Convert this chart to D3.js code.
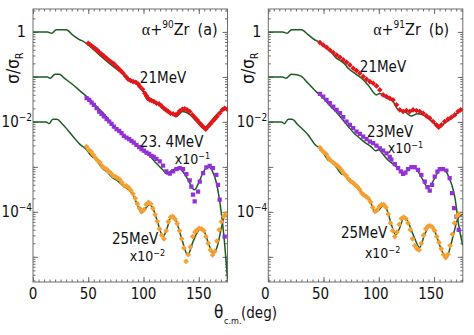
<!DOCTYPE html>
<html lang="en">
<head>
<meta charset="utf-8">
<title>alpha + Zr elastic scattering</title>
<script src="https://cdn.jsdelivr.net/npm/d3@7"></script>
<style>
  body { margin: 0; background: #fff; }
  svg { display: block; background: #fff; }
  text { font-family: "Liberation Sans Narrow", "DejaVu Sans Condensed", "Liberation Sans", sans-serif; fill: #111; }
</style>
</head>
<body>
<div id="chart"></div>
<script>
// x-axis tick labels (theta c.m., deg)
var angleTicks = [0, 50, 100, 150];
// scale factors applied to the three energies in each panel
var scaleFactors = [1, 0.1, 0.01];

// ---- panel (a) alpha + 90Zr : calculated curves [theta, sigma/sigmaR] (unscaled)
var curveA21 = [[0,1],[13,1],[17,0.933],[21,1.122],[30,1.122],[36,0.851],[42,0.676],[45.5,0.617],[50,0.513],[60.5,0.302],[70,0.191],[78.6,0.132],[88,0.0851],[92,0.0759],[96,0.0631],[100,0.0468],[104,0.0302],[107,0.0316],[115,0.0240],[122,0.0186],[129.5,0.0132],[135.5,0.0170],[142,0.0145],[148,0.0102],[155,0.00708],[160,0.00955],[165,0.0135],[172,0.0186],[176,0.0204]];
var curveA23 = [[0,1],[13,1],[15.5,0.933],[20,1.148],[24,1.148],[27.5,0.977],[36.4,0.661],[42.5,0.490],[50,0.339],[60,0.191],[67,0.126],[73,0.0794],[79,0.0589],[88,0.0398],[94,0.0302],[100,0.0219],[105,0.0182],[110,0.0132],[114,0.0105],[118,0.00832],[121,0.00692],[126,0.00851],[132,0.00933],[137,0.00708],[141,0.00479],[146,0.00309],[150,0.00447],[154,0.00759],[158.4,0.0102],[162,0.00832],[166,0.00437],[170,0.00112],[173,0.000251],[176,0.0000316]];
var curveA25 = [[0,1],[12,1],[14.5,0.912],[18,1.148],[21.5,1.148],[27.4,0.851],[36.4,0.468],[42.5,0.316],[48.5,0.240],[51.5,0.191],[57.5,0.138],[63.5,0.0891],[66.6,0.0794],[72.5,0.0562],[76,0.0501],[81.6,0.0380],[86,0.0316],[90.6,0.0240],[94,0.0151],[98.2,0.00933],[101,0.0112],[105.7,0.0145],[109,0.0112],[113,0.00562],[117.7,0.00282],[121.5,0.00447],[125.3,0.00794],[129,0.00661],[134,0.00282],[140,0.00110],[145,0.00224],[151,0.00398],[155,0.00355],[159,0.00191],[163,0.00120],[167,0.00178],[170.5,0.00447],[173.4,0.00851],[176,0.0100]];

// ---- panel (a) measured points (unscaled)
var pointsA21 = [[50.0,0.560],[52.1,0.514],[53.9,0.472],[56.0,0.434],[58.1,0.398],[59.9,0.353],[62.0,0.324],[64.1,0.293],[66.6,0.260],[69.0,0.231],[71.1,0.212],[73.2,0.195],[75.6,0.170],[77.1,0.156],[79.2,0.138],[81.6,0.121],[84.0,0.102],[86.1,0.0887],[88.2,0.0830],[90.6,0.0787],[93.0,0.0762],[95.2,0.0698],[96.7,0.0610],[99.1,0.0532],[101.2,0.0434],[102.7,0.0378],[104.2,0.0336],[105.7,0.0308],[107.2,0.0298],[109.3,0.0283],[111.7,0.0260],[114.1,0.0251],[116.2,0.0227],[118.3,0.0201],[120.2,0.0185],[122.3,0.0170],[124.4,0.0156],[126.8,0.0151],[129.2,0.0143],[131.3,0.0156],[132.8,0.0175],[135.2,0.0191],[137.3,0.0195],[139.4,0.0185],[141.8,0.0170],[144.2,0.0143],[146.3,0.0127],[148.4,0.0111],[150.3,0.00966],[152.4,0.00857],[154.5,0.00760],[156.3,0.00687],[158.4,0.00787],[160.5,0.00902],[162.3,0.0102],[164.4,0.0115],[166.5,0.0132],[168.9,0.0156],[171.3,0.0185],[173.4,0.0201],[175.6,0.0191]];
var pointsA23 = [[48.5,0.336],[50.9,0.308],[53.0,0.269],[55.1,0.239],[57.5,0.201],[59.9,0.170],[62.0,0.151],[64.1,0.132],[66.6,0.115],[69.0,0.102],[71.1,0.0902],[73.2,0.0787],[75.6,0.0687],[78.0,0.0631],[80.1,0.0560],[82.2,0.0489],[84.6,0.0449],[87.0,0.0412],[89.1,0.0378],[91.2,0.0348],[93.6,0.0308],[96.1,0.0274],[98.2,0.0247],[100.3,0.0231],[102.7,0.0208],[105.1,0.0195],[107.2,0.0175],[109.3,0.0166],[111.7,0.0151],[114.7,0.0132],[117.7,0.0107],[120.7,0.00794],[123.8,0.00708],[126.8,0.00794],[129.8,0.00891],[132.8,0.00933],[135.8,0.00891],[138.8,0.00692],[141.8,0.00501],[143.3,0.00363],[144.8,0.00240],[146.3,0.00170],[149.4,0.00282],[150.9,0.00468],[153.9,0.00724],[156.9,0.00977],[159.9,0.0105],[162.9,0.00933],[165.9,0.00661],[167.4,0.00398],[168.9,0.00186],[173.4,0.000282]];
var pointsA25 = [[48.5,0.282],[50.5,0.240],[52.5,0.219],[54.5,0.186],[56.5,0.158],[58.5,0.138],[60.5,0.126],[62.5,0.105],[64.5,0.0933],[66.5,0.0891],[68.5,0.0794],[70.5,0.0724],[72.5,0.0631],[74.5,0.0603],[76.5,0.0562],[78.5,0.0525],[80.5,0.0447],[82.5,0.0380],[84.5,0.0380],[86.5,0.0347],[88.5,0.0302],[90.5,0.0251],[92.5,0.0200],[94.5,0.0151],[96.5,0.0120],[98.5,0.0102],[100.5,0.0112],[102.5,0.0145],[104.5,0.0162],[106.5,0.0151],[108.5,0.0120],[110.5,0.00871],[112.5,0.00617],[114.5,0.00417],[116.5,0.00302],[118.5,0.00251],[120.5,0.00380],[122.5,0.00603],[124.5,0.00759],[126.5,0.00794],[128.5,0.00692],[130.5,0.00550],[132.5,0.00380],[134.5,0.00251],[136.5,0.00158],[138.5,0.000794],[140.5,0.00112],[142.5,0.00166],[144.5,0.00282],[146.5,0.00355],[148.5,0.00398],[150.5,0.00427],[152.5,0.00417],[154.5,0.00380],[156.5,0.00282],[158.5,0.00200],[160.5,0.00141],[162.5,0.00110],[164.5,0.00132],[166.5,0.00224],[168.5,0.00398],[170.5,0.00603],[172.5,0.00794],[174.5,0.00891]];

// ---- panel (b) alpha + 91Zr : calculated curves (unscaled)
var curveB21 = [[0,1],[13,1],[17,0.933],[21,1.122],[30,1.122],[36,0.871],[42.2,0.661],[45.2,0.617],[50,0.501],[57.3,0.347],[60.3,0.282],[69.3,0.191],[72.3,0.155],[78.3,0.120],[84.4,0.0933],[90.3,0.0661],[97.9,0.0398],[100.9,0.0427],[107,0.0339],[113,0.0282],[117.4,0.0186],[123.5,0.0170],[129.5,0.0135],[135,0.0151],[141.5,0.0138],[148,0.0105],[155,0.00794],[160,0.00955],[165.6,0.0120],[174.7,0.0186],[176,0.0195]];
var curveB23 = [[0,1],[13,1],[16,0.933],[21,1.148],[26,1.122],[30,1.023],[36,0.724],[42.2,0.501],[50,0.331],[57.3,0.209],[61,0.170],[66.3,0.120],[72.3,0.0794],[78.3,0.0537],[81.3,0.0468],[87,0.0355],[93.4,0.0275],[97,0.0229],[100,0.0240],[103,0.0200],[108,0.0145],[114.5,0.0107],[120.5,0.00759],[122,0.00692],[126,0.00871],[130,0.00977],[134,0.00891],[139,0.00562],[144.5,0.00347],[150,0.00525],[154,0.00794],[158,0.00933],[162,0.00708],[166,0.00398],[169,0.00200],[172,0.000562],[176,0.000178]];
var curveB25 = [[0,1],[12,1],[14.5,0.912],[18,1.148],[21.5,1.148],[27,0.851],[36.1,0.513],[42.2,0.316],[48.2,0.240],[54.2,0.141],[57.3,0.132],[62,0.0955],[66.3,0.0692],[69.3,0.0661],[75.3,0.0437],[80,0.0355],[84.4,0.0275],[91.9,0.0186],[96.5,0.00977],[99,0.0105],[104.5,0.0138],[108,0.0100],[111,0.00562],[115.2,0.00309],[119,0.00447],[122.7,0.00759],[126,0.00631],[131,0.00316],[137,0.00162],[141.5,0.00316],[146.8,0.00490],[151,0.00355],[156,0.00158],[161.2,0.000933],[165,0.00178],[168.6,0.00398],[171.5,0.00708],[176,0.00891]];

// ---- panel (b) measured points (unscaled)
var pointsB21 = [[46.7,0.579],[49.7,0.514],[52.7,0.456],[55.7,0.398],[58.7,0.348],[61.8,0.308],[64.8,0.274],[67.8,0.239],[70.8,0.212],[73.8,0.185],[76.8,0.156],[79.8,0.138],[82.8,0.121],[85.9,0.102],[88.9,0.0887],[91.9,0.0787],[94.9,0.0723],[97.9,0.0631],[100.9,0.0514],[103.9,0.0398],[106.9,0.0366],[109.9,0.0336],[112.9,0.0308],[116.0,0.0239],[119.0,0.0185],[122.0,0.0170],[125.0,0.0179],[128.0,0.0170],[131.0,0.0185],[134.0,0.0179],[137.0,0.0170],[140.1,0.0156],[143.1,0.0136],[146.1,0.0121],[149.1,0.0102],[152.1,0.00857],[154.2,0.00760],[156.6,0.00857],[159.6,0.0102],[162.6,0.0115],[165.7,0.0127],[168.7,0.0143],[171.7,0.0170],[174.1,0.0185]];
var pointsB23 = [[46.7,0.419],[49.7,0.366],[52.7,0.308],[55.7,0.260],[58.8,0.219],[61.8,0.185],[64.8,0.156],[67.8,0.127],[70.8,0.102],[73.8,0.0857],[76.8,0.0723],[79.8,0.0610],[82.8,0.0541],[85.9,0.0472],[88.9,0.0412],[91.9,0.0366],[94.9,0.0336],[97.9,0.0295],[100.9,0.0257],[103.9,0.0229],[106.9,0.0200],[109.9,0.0166],[111.4,0.0145],[114.5,0.0115],[117.5,0.00933],[119.9,0.00794],[122.0,0.00700],[124.1,0.00748],[126.5,0.00887],[129.5,0.00984],[132.5,0.00984],[135.5,0.00859],[138.5,0.00664],[141.6,0.00472],[144.0,0.00353],[146.1,0.00298],[148.2,0.00398],[150.6,0.00610],[153.0,0.00787],[155.1,0.00887],[158.1,0.00887],[161.1,0.00830],[164.1,0.00560],[166.2,0.00260],[168.1,0.00121],[170.2,0.000787],[172.3,0.000398]];
var pointsB25 = [[46.7,0.269],[48.5,0.234],[50.5,0.209],[52.5,0.191],[54.5,0.158],[56.5,0.138],[58.5,0.126],[60.5,0.115],[62.5,0.107],[64.5,0.0955],[66.5,0.0832],[68.5,0.0708],[70.5,0.0631],[72.5,0.0537],[74.5,0.0479],[76.5,0.0447],[78.5,0.0398],[80.5,0.0363],[82.5,0.0316],[84.5,0.0263],[86.5,0.0234],[88.5,0.0219],[90.5,0.0200],[92.5,0.0166],[94.5,0.0126],[96.5,0.0102],[98.5,0.0110],[100.5,0.0132],[102.5,0.0145],[104.5,0.0145],[106.5,0.0126],[108.5,0.00891],[110.5,0.00562],[112.5,0.00380],[114.5,0.00282],[116.5,0.00355],[118.5,0.00525],[120.5,0.00708],[122.5,0.00759],[124.5,0.00708],[126.5,0.00562],[128.5,0.00398],[130.5,0.00251],[132.5,0.00178],[134.5,0.00151],[136.5,0.00141],[138.5,0.00200],[140.5,0.00302],[142.5,0.00417],[144.5,0.00479],[146.5,0.00490],[148.5,0.00457],[150.5,0.00380],[152.5,0.00282],[154.5,0.00209],[156.5,0.00151],[158.5,0.00112],[160.5,0.000955],[162.5,0.00112],[164.5,0.00178],[166.5,0.00316],[168.5,0.00562],[170.5,0.00794],[172.5,0.00891]];

// energy labels and their anchor in data coordinates [theta, plotted sigma/sigmaR]
var labelsA = [["21MeV", 96.7, 0.0736], ["23. 4MeV", 96.7, 0.00278], ["25MeV", 71.4, 1.95e-5]];
var labelsB = [["21MeV", 82.8, 0.129], ["23MeV", 89.2, 0.00464], ["25MeV", 65.7, 2.64e-5]];
var factorLabelsA = [["\u22121", 128.3, 0.00123], ["\u22122", 87.6, 8.58e-6]];
var factorLabelsB = [["\u22121", 108.1, 0.00215], ["\u22122", 87.4, 1.0e-5]];

var width = 474, height = 335;
var plotTop = 9, plotBottom = 282, plotW = 194.5;
var colors = ["#e2161b", "#9430d8", "#f5a033"];
var lineColor = "#1d5c22";
var frameColor = "#6d6d6d";

var panels = [
  {id: "a", left: 33, mass: "90", tag: "(a)", curves: [curveA21, curveA23, curveA25],
   points: [pointsA21, pointsA23, pointsA25], labels: labelsA, factors: factorLabelsA, shift: 0, ytitle: 19},
  {id: "b", left: 268.3, mass: "91", tag: "(b)", curves: [curveB21, curveB23, curveB25],
   points: [pointsB21, pointsB23, pointsB25], labels: labelsB, factors: factorLabelsB, shift: -3, ytitle: 254}
];

var svg = d3.select("#chart").append("svg")
    .attr("width", width)
    .attr("height", height);

var yMinor = [];
d3.range(-6, 1).forEach(function(e) {
  d3.range(1, 10).forEach(function(k) { yMinor.push(k * Math.pow(10, e)); });
});

panels.forEach(function(p) {
  var x = d3.scaleLinear().domain([0, 176]).range([p.left, p.left + plotW]);
  var y = d3.scaleLog().domain([Math.pow(10, -5.56), Math.pow(10, 0.51)]).range([plotBottom, plotTop]);
  var minors = yMinor.filter(function(v) { return v >= y.domain()[0] && v <= y.domain()[1]; });
  var decades = minors.filter(function(v) { return Math.abs(Math.log10(v) - Math.round(Math.log10(v))) < 1e-9; });

  var g = svg.append("g");

  g.append("clipPath").attr("id", "clip-" + p.id)
    .append("rect")
    .attr("x", p.left).attr("y", plotTop)
    .attr("width", plotW).attr("height", plotBottom - plotTop);

  function noDomain(sel) { sel.select(".domain").remove(); sel.selectAll("line").attr("stroke", frameColor); }

  // ticks, all pointing inward
  g.append("g").attr("transform", "translate(0," + plotBottom + ")")
    .call(d3.axisBottom(x).tickValues(d3.range(0, 177, 5)).tickSize(-2.5).tickFormat("")).call(noDomain);
  g.append("g").attr("transform", "translate(0," + plotBottom + ")")
    .call(d3.axisBottom(x).tickValues(angleTicks).tickSize(-5).tickFormat("")).call(noDomain);
  g.append("g").attr("transform", "translate(0," + plotTop + ")")
    .call(d3.axisTop(x).tickValues(d3.range(0, 177, 5)).tickSize(-2.5).tickFormat("")).call(noDomain);
  g.append("g").attr("transform", "translate(0," + plotTop + ")")
    .call(d3.axisTop(x).tickValues(angleTicks).tickSize(-5).tickFormat("")).call(noDomain);
  g.append("g").attr("transform", "translate(" + p.left + ",0)")
    .call(d3.axisLeft(y).tickValues(minors).tickSize(-2.5).tickFormat("")).call(noDomain);
  g.append("g").attr("transform", "translate(" + p.left + ",0)")
    .call(d3.axisLeft(y).tickValues(decades).tickSize(-5).tickFormat("")).call(noDomain);
  g.append("g").attr("transform", "translate(" + (p.left + plotW) + ",0)")
    .call(d3.axisRight(y).tickValues(minors).tickSize(-2.5).tickFormat("")).call(noDomain);
  g.append("g").attr("transform", "translate(" + (p.left + plotW) + ",0)")
    .call(d3.axisRight(y).tickValues(decades).tickSize(-5).tickFormat("")).call(noDomain);

  g.append("rect")
    .attr("x", p.left).attr("y", plotTop)
    .attr("width", plotW).attr("height", plotBottom - plotTop)
    .attr("fill", "none").attr("stroke", frameColor).attr("stroke-width", 1);

  // x tick labels
  g.selectAll(".xl").data(angleTicks).enter().append("text")
    .attr("x", function(d) { return x(d) + p.shift; })
    .attr("y", 299)
    .attr("text-anchor", "middle")
    .style("font-size", "15px")
    .text(function(d) { return d; });

  // y tick labels: 1, 10^-2, 10^-4
  g.append("text")
    .attr("x", p.left - 7).attr("y", y(1) + 5.5)
    .attr("text-anchor", "end").style("font-size", "16px").text("1");
  [-2, -4].forEach(function(e) {
    var t = g.append("text")
      .attr("x", p.left - 1).attr("y", y(Math.pow(10, e)) + 5.5)
      .attr("text-anchor", "end").style("font-size", "15px");
    t.append("tspan").text("10");
    t.append("tspan").attr("dy", -6).style("font-size", "10px").text("\u2212" + (-e));
  });

  // y axis title
  var yt = g.append("text")
    .attr("transform", "translate(" + p.ytitle + ",68) rotate(-90)")
    .attr("text-anchor", "middle")
    .style("font-size", "17px");
  yt.append("tspan").text("\u03c3/\u03c3");
  yt.append("tspan").attr("dy", 4).style("font-size", "11px").text("R");

  // calculated curves
  var plot = g.append("g").attr("clip-path", "url(#clip-" + p.id + ")");
  p.curves.forEach(function(c, i) {
    var f = scaleFactors[i];
    var line = d3.line()
      .x(function(d) { return x(d[0]); })
      .y(function(d) { return y(d[1] * f); })
      .curve(d3.curveMonotoneX);
    plot.append("path")
      .datum(c)
      .attr("d", line)
      .attr("fill", "none")
      .attr("stroke", lineColor)
      .attr("stroke-width", 1.5);
  });

  // measured points
  var shapes = [d3.symbol().type(d3.symbolDiamond2).size(20),
                d3.symbol().type(d3.symbolSquare).size(18),
                d3.symbol().type(d3.symbolDiamond2).size(21)];
  p.points.forEach(function(pts, i) {
    var f = scaleFactors[i];
    plot.selectAll(".pt" + i).data(pts).enter().append("path")
      .attr("class", "pt" + i)
      .attr("d", shapes[i])
      .attr("fill", colors[i])
      .attr("transform", function(d) { return "translate(" + x(d[0]) + "," + y(d[1] * f) + ")"; });
  });

  // energy labels
  p.labels.forEach(function(l) {
    g.append("text").attr("x", x(l[1])).attr("y", y(l[2]))
      .style("font-size", "15px").text(l[0]);
  });
  p.factors.forEach(function(l) {
    var t = g.append("text").attr("x", x(l[1])).attr("y", y(l[2]) + 1).style("font-size", "14px");
    t.append("tspan").text("x10");
    t.append("tspan").attr("dy", -5).style("font-size", "9px").text(l[0]);
  });

  // reaction label
  var rl = g.append("text")
    .attr("x", x(98.5) - (p.id === "b" ? 4 : 0)).attr("y", 35)
    .style("font-size", "16px");
  rl.append("tspan").style("font-family", "Liberation Serif, serif").text("\u03b1");
  rl.append("tspan").text("+");
  rl.append("tspan").attr("dy", -7).style("font-size", "10px").text(p.mass);
  rl.append("tspan").attr("dy", 7).text("Zr");
  rl.append("tspan").attr("dx", 8).text(p.tag);
});

// x axis title shared by both panels
svg.append("text").attr("x", 214).attr("y", 318).style("font-size", "17px").text("\u03b8");
svg.append("text").attr("x", 224).attr("y", 324).style("font-size", "9px").text("c.m.");
svg.append("text").attr("x", 241).attr("y", 318).style("font-size", "15px").text("(deg)");
</script>
</body>
</html>
